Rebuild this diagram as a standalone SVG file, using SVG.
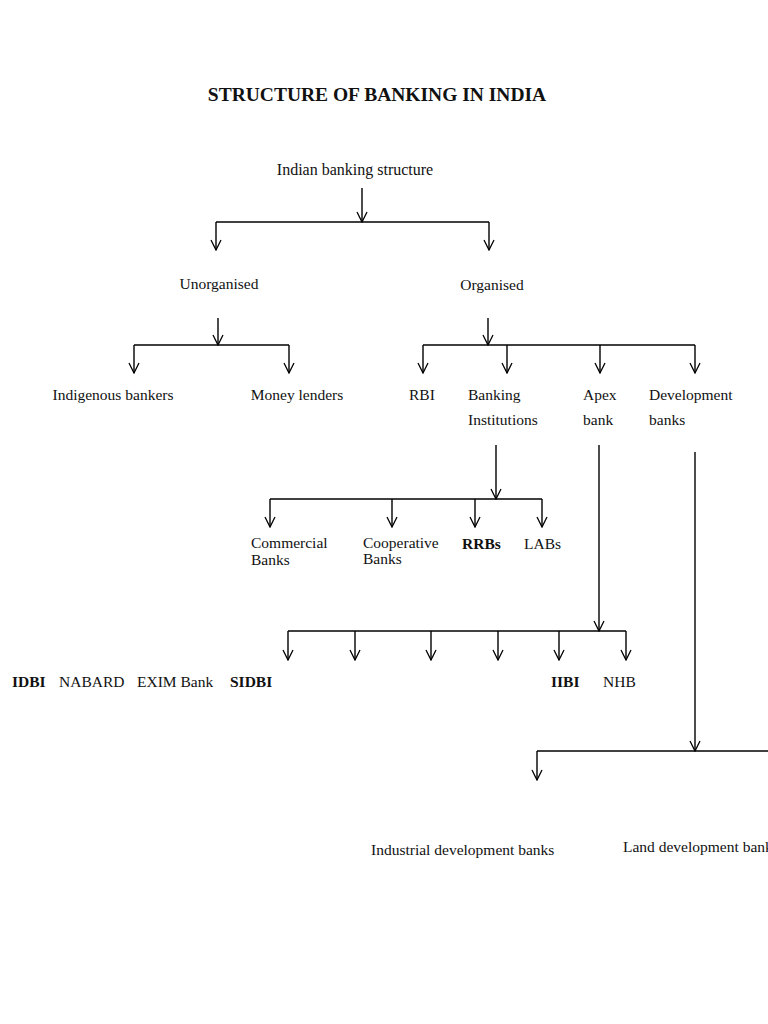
<svg xmlns="http://www.w3.org/2000/svg" width="768" height="1024" viewBox="0 0 768 1024">
<defs>
<marker id="a" markerWidth="12" markerHeight="12" refX="11" refY="6" orient="auto" markerUnits="userSpaceOnUse" viewBox="0 0 12 12">
<polyline points="1,1 11,6 1,11" fill="none" stroke="#000" stroke-width="1.3"/>
</marker>
</defs>
<style>
text{font-family:"Liberation Serif",serif;font-size:15.5px;fill:#111}
.b{font-weight:bold}
.t{font-size:19.5px;font-weight:bold}
.c line{stroke:#000;stroke-width:1.4;fill:none}
.ar{marker-end:url(#a)}
</style>
<rect width="768" height="1024" fill="#fff"/>
<text class="t" x="377" y="101" text-anchor="middle">STRUCTURE OF BANKING IN INDIA</text>
<g class="c">
<line class="ar" x1="362" y1="188" x2="362" y2="222"/>
<line x1="216" y1="222" x2="489" y2="222"/>
<line class="ar" x1="216" y1="222" x2="216" y2="250"/>
<line class="ar" x1="489" y1="222" x2="489" y2="250"/>
<line class="ar" x1="218" y1="318" x2="218" y2="345"/>
<line x1="134" y1="345" x2="289" y2="345"/>
<line class="ar" x1="134" y1="345" x2="134" y2="373"/>
<line class="ar" x1="289" y1="345" x2="289" y2="373"/>
<line class="ar" x1="488" y1="318" x2="488" y2="345"/>
<line x1="423" y1="345" x2="695" y2="345"/>
<line class="ar" x1="423" y1="345" x2="423" y2="373"/>
<line class="ar" x1="507" y1="345" x2="507" y2="373"/>
<line class="ar" x1="600" y1="345" x2="600" y2="373"/>
<line class="ar" x1="695" y1="345" x2="695" y2="373"/>
<line class="ar" x1="496" y1="445" x2="496" y2="499"/>
<line x1="270" y1="499" x2="542" y2="499"/>
<line class="ar" x1="270" y1="499" x2="270" y2="527"/>
<line class="ar" x1="392" y1="499" x2="392" y2="527"/>
<line class="ar" x1="475" y1="499" x2="475" y2="527"/>
<line class="ar" x1="542" y1="499" x2="542" y2="527"/>
<line class="ar" x1="599" y1="445" x2="599" y2="631"/>
<line x1="288" y1="631" x2="626" y2="631"/>
<line class="ar" x1="288" y1="631" x2="288" y2="660"/>
<line class="ar" x1="355" y1="631" x2="355" y2="660"/>
<line class="ar" x1="431" y1="631" x2="431" y2="660"/>
<line class="ar" x1="498" y1="631" x2="498" y2="660"/>
<line class="ar" x1="559" y1="631" x2="559" y2="660"/>
<line class="ar" x1="626" y1="631" x2="626" y2="660"/>
<line class="ar" x1="695" y1="452" x2="695" y2="751"/>
<line x1="537" y1="751" x2="768" y2="751"/>
<line class="ar" x1="537" y1="751" x2="537" y2="780"/>
</g>
<g id="root"><text x="355" y="175" text-anchor="middle" style="font-size:16px">Indian banking structure</text></g>
<g id="unorg"><text x="219" y="289" text-anchor="middle">Unorganised</text></g>
<g id="org"><text x="492" y="290" text-anchor="middle">Organised</text></g>
<g id="indig"><text x="113" y="400" text-anchor="middle">Indigenous bankers</text></g>
<g id="money"><text x="297" y="400" text-anchor="middle">Money lenders</text></g>
<g id="rbi"><text x="409" y="400">RBI</text></g>
<g id="bi"><text x="468" y="400">Banking</text><text x="468" y="425">Institutions</text></g>
<g id="apex"><text x="583" y="400">Apex</text><text x="583" y="425">bank</text></g>
<g id="dev"><text x="649" y="400">Development</text><text x="649" y="425">banks</text></g>
<g id="comm"><text x="251" y="548">Commercial</text><text x="251" y="565">Banks</text></g>
<g id="coop"><text x="363" y="548">Cooperative</text><text x="363" y="564">Banks</text></g>
<g id="rrb"><text class="b" x="462" y="549">RRBs</text></g>
<g id="lab"><text x="524" y="549">LABs</text></g>
<g id="idbi"><text class="b" x="12" y="687">IDBI</text></g>
<g id="nabard"><text x="59" y="687">NABARD</text></g>
<g id="exim"><text x="137" y="687">EXIM Bank</text></g>
<g id="sidbi"><text class="b" x="230" y="687">SIDBI</text></g>
<g id="iibi"><text class="b" x="551" y="687">IIBI</text></g>
<g id="nhb"><text x="603" y="687">NHB</text></g>
<g id="ind"><text x="371" y="855">Industrial development banks</text></g>
<g id="land"><text x="623" y="852">Land development banks</text></g>
</svg>
